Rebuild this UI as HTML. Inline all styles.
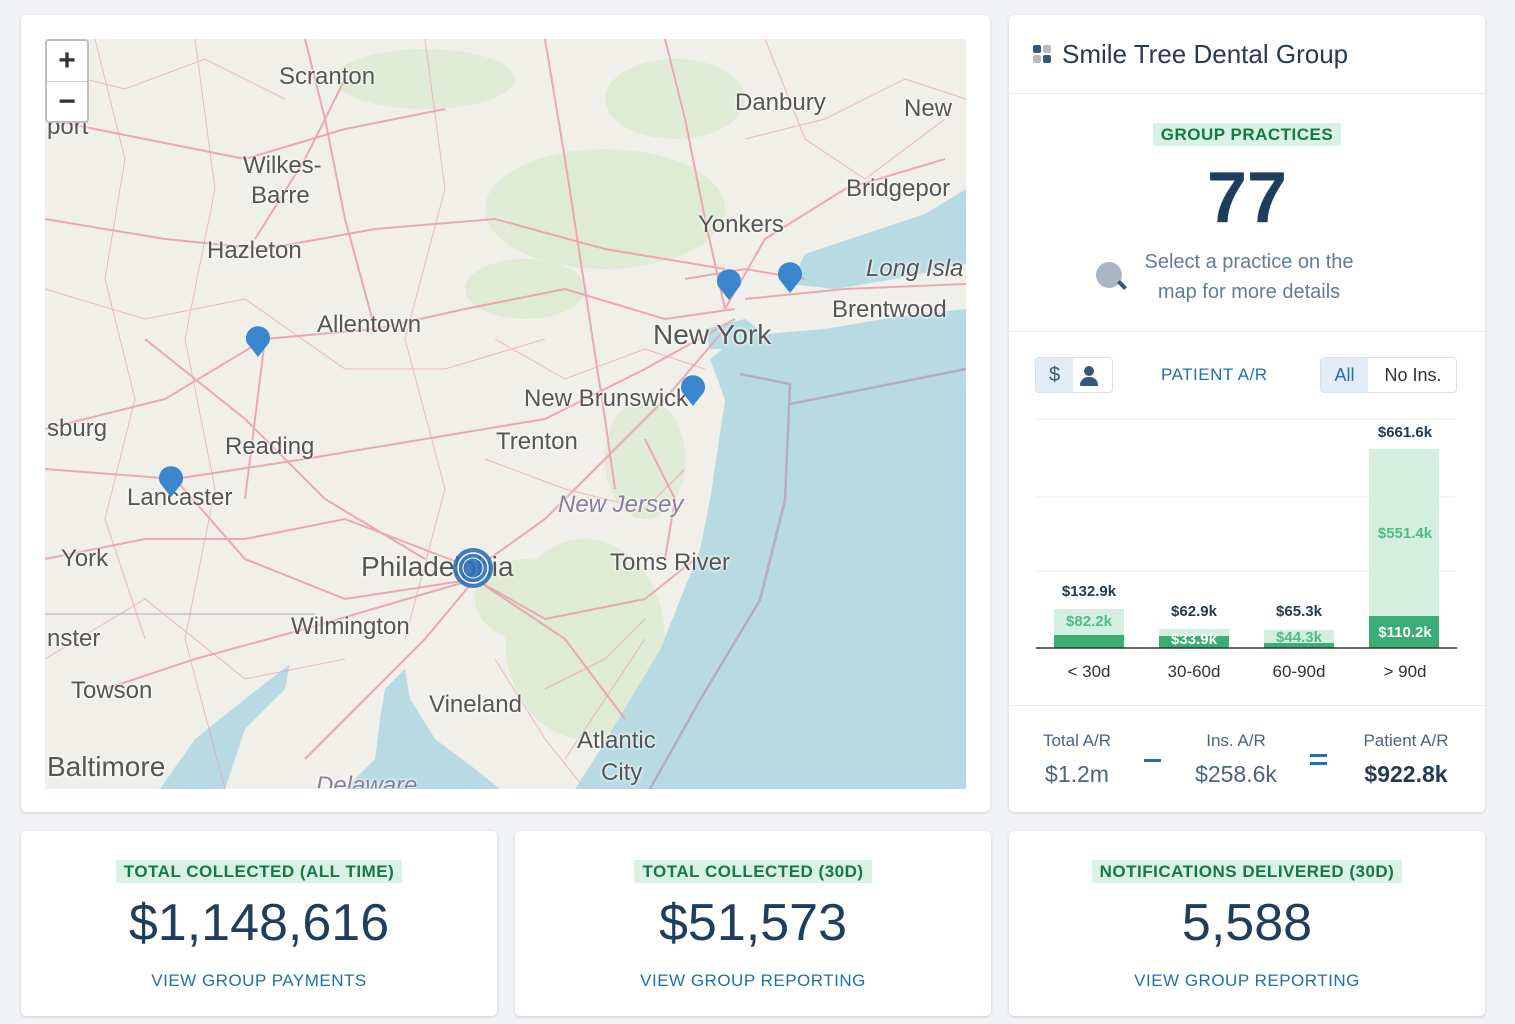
<!DOCTYPE html>
<html><head><meta charset="utf-8"><style>
*{box-sizing:border-box;margin:0;padding:0}
body{width:1515px;height:1024px;background:#f1f3f6;font-family:"Liberation Sans",sans-serif;position:relative;overflow:hidden;color:#243b53}
.card{position:absolute;background:#fff;border-radius:5px;box-shadow:0 1px 3px rgba(0,0,0,.15)}
.abs{position:absolute}
.badge{background:#d9f2e3;color:#157a42;font-weight:bold;letter-spacing:.5px;padding:2px 8px;border-radius:2px;font-size:17px}
.c{text-align:center}
.lbl{position:absolute;font-size:24px;color:#555;text-shadow:0 0 3px #fff,0 0 3px #fff}
</style></head><body>
<div class="card" style="left:21px;top:15px;width:969px;height:797px">
<svg class="abs" style="left:24px;top:24px" width="921" height="750" viewBox="0 0 921 750">
<rect width="921" height="750" fill="#f1efe9"/>
<g fill="#dcebcf" opacity=".8">
<ellipse cx="560" cy="170" rx="120" ry="60"/><ellipse cx="480" cy="250" rx="60" ry="30"/>
<ellipse cx="380" cy="40" rx="90" ry="30"/><ellipse cx="630" cy="60" rx="70" ry="40"/>
<ellipse cx="540" cy="600" rx="80" ry="100"/><ellipse cx="480" cy="560" rx="50" ry="40"/>
<ellipse cx="600" cy="420" rx="40" ry="60"/>
</g>
<path d="M921 150 L880 175 L820 195 L760 215 L745 245 L790 250 L850 240 L921 225Z" fill="#b8dbe3"/>
<path d="M921 270 L850 278 L780 290 L720 295 L690 300 L665 320 L680 361 L665 461 L655 511 L635 561 L615 611 L585 661 L555 711 L530 750 L921 750Z" fill="#b8dbe3"/>
<path d="M660 290 L700 280 L720 295 L690 310 L665 310Z" fill="#b8dbe3"/>
<path d="M115 750 L150 700 L200 660 L245 625 L240 650 L200 690 L180 750Z" fill="#b8dbe3"/>
<path d="M300 750 L330 720 L335 680 L340 650 L360 630 L365 660 L390 700 L430 730 L455 750Z" fill="#b8dbe3"/>
<path d="M695 335 L745 345 L740 461 L715 561 L655 661 L605 750" fill="none" stroke="#b3aec2" stroke-width="2.5"/>
<path d="M745 365 L921 330" fill="none" stroke="#b3aec2" stroke-width="2.5"/>
<line x1="0" y1="575" x2="270" y2="575" stroke="#c6c0c6" stroke-width="1.5"/>
<g stroke="#eba1ae" stroke-width="2" fill="none" opacity=".9">
<path d="M0 390 L120 360 L220 300 L330 290 L420 270 L520 250 L620 280 L690 270"/>
<path d="M0 430 L130 440 L260 420 L380 400 L500 380 L600 330 L690 280"/>
<path d="M430 530 L500 480 L560 420 L620 360 L680 290"/>
<path d="M430 540 L380 600 L320 660 L260 720"/>
<path d="M430 540 L520 600 L580 680"/>
<path d="M680 270 L720 200 L800 150 L900 120"/>
<path d="M680 270 L660 180 L640 80 L620 0"/>
<path d="M330 290 L300 180 L280 80 L260 0"/>
<path d="M210 200 L260 120 L300 40"/>
<path d="M0 180 L120 200 L220 210 L330 190 L450 180 L560 210 L680 230"/>
<path d="M220 300 L210 380 L200 460"/>
<path d="M130 440 L200 520 L300 560 L430 540"/>
<path d="M430 540 L500 580 L600 560 L650 520"/>
<path d="M0 520 L100 500 L200 500 L300 480 L430 530"/>
<path d="M60 650 L150 620 L260 590 L430 540"/>
<path d="M0 80 L100 100 L200 120 L300 90 L400 70"/>
<path d="M500 0 L520 120 L540 250 L560 380 L570 450"/>
<path d="M700 260 L800 250 L921 245"/>
<path d="M100 300 L200 380 L280 460 L380 520"/>
<path d="M600 400 L630 460 L620 520"/>
<path d="M640 240 L700 230 L760 240"/>
</g>
<g stroke="#eba1ae" stroke-width="1" fill="none" opacity=".7">
<path d="M0 250 L100 280 L200 260 L300 330 L400 330 L500 300"/>
<path d="M50 0 L80 120 L60 240 L90 360 L60 480 L100 600"/>
<path d="M150 0 L170 150 L140 300 L170 450 L140 600 L180 750"/>
<path d="M380 0 L400 150 L360 300 L400 450 L360 600"/>
<path d="M450 620 L500 700 L540 750"/>
<path d="M0 620 L100 560 L200 640 L300 620"/>
<path d="M720 0 L760 100 L820 140 L900 80"/>
<path d="M600 600 L560 660 L520 720"/>
<path d="M450 300 L520 340 L600 310 L660 330"/>
<path d="M440 420 L520 450 L600 470 L640 430"/>
<path d="M500 650 L560 620 L600 580"/>
<path d="M0 30 L80 50 L160 20 L240 60"/>
<path d="M700 100 L780 80 L860 40 L921 60"/>
</g>
</svg>
<div class="lbl" style="left:258px;top:48px">Scranton</div>
<div class="lbl" style="left:26px;top:98px">port</div>
<div class="lbl" style="left:222px;top:137px">Wilkes-</div>
<div class="lbl" style="left:230px;top:167px">Barre</div>
<div class="lbl" style="left:186px;top:222px">Hazleton</div>
<div class="lbl" style="left:296px;top:296px">Allentown</div>
<div class="lbl" style="left:204px;top:418px">Reading</div>
<div class="lbl" style="left:26px;top:400px">sburg</div>
<div class="lbl" style="left:106px;top:469px">Lancaster</div>
<div class="lbl" style="left:40px;top:530px">York</div>
<div class="lbl" style="left:26px;top:610px">nster</div>
<div class="lbl" style="left:50px;top:662px">Towson</div>
<div class="lbl" style="left:26px;top:736px;font-size:28px">Baltimore</div>
<div class="lbl" style="left:340px;top:536px;font-size:28px">Philadelphia</div>
<div class="lbl" style="left:270px;top:598px">Wilmington</div>
<div class="lbl" style="left:408px;top:676px">Vineland</div>
<div class="lbl" style="left:556px;top:712px">Atlantic</div>
<div class="lbl" style="left:580px;top:744px">City</div>
<div class="lbl" style="left:475px;top:413px">Trenton</div>
<div class="lbl" style="left:503px;top:370px">New Brunswick</div>
<div class="lbl" style="left:537px;top:476px;font-style:italic;color:#8a7d9b">New Jersey</div>
<div class="lbl" style="left:589px;top:534px">Toms River</div>
<div class="lbl" style="left:632px;top:304px;font-size:28px">New York</div>
<div class="lbl" style="left:677px;top:196px">Yonkers</div>
<div class="lbl" style="left:714px;top:74px">Danbury</div>
<div class="lbl" style="left:883px;top:80px">New</div>
<div class="lbl" style="left:825px;top:160px">Bridgepor</div>
<div class="lbl" style="left:845px;top:240px;font-style:italic">Long Isla</div>
<div class="lbl" style="left:811px;top:281px">Brentwood</div>
<div class="lbl" style="left:295px;top:757px;font-style:italic;color:#8a7d9b;height:16px;overflow:hidden">Delaware</div>
<div class="abs" style="left:24px;top:24px;width:44px;height:84px;background:#fff;border:2px solid rgba(0,0,0,.25);border-radius:4px;font-size:30px;color:#333;text-align:center;line-height:40px;font-weight:bold">+<div style="border-top:1px solid #ccc">−</div></div>
<svg class="abs" style="left:0;top:0" width="969" height="797" fill="#3a86cf">
<path d="M237 342 L226 328 A12 12 0 1 1 248 328Z"/>
<path d="M150 482 L139 468 A12 12 0 1 1 161 468Z"/>
<path d="M708 285 L697 271 A12 12 0 1 1 719 271Z"/>
<path d="M769 278 L758 264 A12 12 0 1 1 780 264Z"/>
<path d="M672 391 L661 377 A12 12 0 1 1 683 377Z"/>
<circle cx="452" cy="553" r="20" fill="#2e6fb8" opacity=".9"/><circle cx="452" cy="553" r="15" fill="none" stroke="#fff" stroke-width="1.5"/><circle cx="452" cy="553" r="10" fill="none" stroke="#fff" stroke-width="1"/>
</svg>
</div>

<div class="card" style="left:1009px;top:15px;width:476px;height:797px">
<div class="abs" style="left:24px;top:30px;width:18px;height:18px">
<div class="abs" style="left:0;top:0;width:8px;height:8px;background:#34577a;border-radius:2px"></div>
<div class="abs" style="left:10px;top:0;width:8px;height:8px;background:#bbb;border-radius:2px"></div>
<div class="abs" style="left:0;top:10px;width:8px;height:8px;background:#bbb;border-radius:2px"></div>
<div class="abs" style="left:10px;top:10px;width:8px;height:8px;background:#34577a;border-radius:2px"></div>
</div>
<div class="abs" style="left:53px;top:24px;font-size:26px;color:#243b53">Smile Tree Dental Group</div>
<div class="abs" style="left:0;top:78px;width:476px;border-top:1px solid #e8ebef"></div>
<div class="abs c" style="left:0;top:110px;width:476px"><span class="badge">GROUP PRACTICES</span></div>
<div class="abs c" style="left:0;top:142px;width:476px;font-size:72px;font-weight:bold;color:#1f3d5c">77</div>
<div class="abs" style="left:87px;top:247px;width:26px;height:26px;border-radius:50%;background:#a9b7c4"></div>
<div class="abs" style="left:108px;top:268px;width:10px;height:4px;background:#34577a;transform:rotate(45deg)"></div>
<div class="abs c" style="left:120px;top:232px;width:240px;font-size:20px;color:#627d98;line-height:30px">Select a practice on the<br>map for more details</div>
<div class="abs" style="left:0;top:316px;width:476px;border-top:1px solid #e8ebef"></div>
<div class="abs" style="left:26px;top:342px;width:78px;height:36px;border:1px solid #d9e2ec;border-radius:4px;overflow:hidden">
<div class="abs" style="left:0;top:0;width:37px;height:36px;background:#e3edf7;text-align:center;line-height:34px;font-size:20px;color:#34577a">$</div>
<div class="abs" style="left:48px;top:8px;width:10px;height:10px;border-radius:50%;background:#34577a"></div>
<div class="abs" style="left:44px;top:19px;width:18px;height:9px;border-radius:8px 8px 1px 1px;background:#34577a"></div>
</div>
<div class="abs" style="left:152px;top:350px;font-size:17px;color:#1f6fae;letter-spacing:.5px">PATIENT A/R</div>
<div class="abs" style="left:311px;top:342px;width:137px;height:36px;border:1px solid #d9e2ec;border-radius:4px;overflow:hidden;font-size:18px">
<div class="abs" style="left:0;top:0;width:47px;height:36px;background:#e3edf7;text-align:center;line-height:34px;color:#1f6fae">All</div>
<div class="abs" style="left:47px;top:0;width:90px;text-align:center;line-height:34px;color:#333">No Ins.</div>
</div>
<svg class="abs" style="left:0;top:395px" width="476" height="290">
<g stroke="#e8ebef"><line x1="27" y1="9" x2="448" y2="9"/><line x1="27" y1="87" x2="448" y2="87"/><line x1="27" y1="161" x2="448" y2="161"/></g>
<g fill="#d4efe0"><rect x="45" y="199" width="70" height="39"/><rect x="150" y="219" width="70" height="19"/><rect x="255" y="220" width="70" height="18"/><rect x="360" y="39" width="70" height="199"/></g>
<g fill="#3aae74"><rect x="45" y="225" width="70" height="13"/><rect x="150" y="226" width="70" height="12"/><rect x="255" y="233" width="70" height="5"/><rect x="360" y="206" width="70" height="32"/></g>
<line x1="27" y1="238" x2="448" y2="238" stroke="#333" stroke-width="1.5"/>
<g font-family="Liberation Sans" font-weight="bold" font-size="15" text-anchor="middle">
<g fill="#243b53"><text x="80" y="186">$132.9k</text><text x="185" y="206">$62.9k</text><text x="290" y="206">$65.3k</text><text x="396" y="27">$661.6k</text></g>
<g fill="#4dbd83"><text x="80" y="216">$82.2k</text><text x="290" y="232">$44.3k</text><text x="396" y="128">$551.4k</text></g>
<g fill="#fff"><text x="185" y="234">$33.9k</text><text x="396" y="227">$110.2k</text></g>
</g>
<g font-family="Liberation Sans" font-size="17" fill="#333" text-anchor="middle"><text x="80" y="267">&lt; 30d</text><text x="185" y="267">30-60d</text><text x="290" y="267">60-90d</text><text x="396" y="267">&gt; 90d</text></g>
</svg>
<div class="abs" style="left:0;top:690px;width:476px;border-top:1px solid #e8ebef"></div>
<div class="abs c" style="left:18px;top:716px;width:100px;font-size:17px;color:#486581">Total A/R</div>
<div class="abs c" style="left:18px;top:746px;width:100px;font-size:23px;color:#486581">$1.2m</div>
<div class="abs" style="left:135px;top:744px;width:17px;height:3px;background:#1f6fae"></div>
<div class="abs c" style="left:167px;top:716px;width:120px;font-size:17px;color:#486581">Ins. A/R</div>
<div class="abs c" style="left:167px;top:746px;width:120px;font-size:23px;color:#486581">$258.6k</div>
<div class="abs" style="left:301px;top:739px;width:17px;height:3px;background:#1f6fae"></div>
<div class="abs" style="left:301px;top:747px;width:17px;height:3px;background:#1f6fae"></div>
<div class="abs c" style="left:340px;top:716px;width:114px;font-size:17px;color:#486581">Patient A/R</div>
<div class="abs c" style="left:340px;top:746px;width:114px;font-size:23px;font-weight:bold;color:#243b53">$922.8k</div>
</div>

<div class="card" style="left:21px;top:831px;width:476px;height:185px">
<div class="abs c" style="left:0;top:31px;width:476px"><span class="badge">TOTAL COLLECTED (ALL TIME)</span></div>
<div class="abs c" style="left:0;top:62px;width:476px;font-size:52px;color:#1f3d5c">$1,148,616</div>
<div class="abs c" style="left:0;top:140px;width:476px;font-size:17px;color:#1f6fae;letter-spacing:.5px">VIEW GROUP PAYMENTS</div>
</div>
<div class="card" style="left:515px;top:831px;width:476px;height:185px">
<div class="abs c" style="left:0;top:31px;width:476px"><span class="badge">TOTAL COLLECTED (30D)</span></div>
<div class="abs c" style="left:0;top:62px;width:476px;font-size:52px;color:#1f3d5c">$51,573</div>
<div class="abs c" style="left:0;top:140px;width:476px;font-size:17px;color:#1f6fae;letter-spacing:.5px">VIEW GROUP REPORTING</div>
</div>
<div class="card" style="left:1009px;top:831px;width:476px;height:185px">
<div class="abs c" style="left:0;top:31px;width:476px"><span class="badge">NOTIFICATIONS DELIVERED (30D)</span></div>
<div class="abs c" style="left:0;top:62px;width:476px;font-size:52px;color:#1f3d5c">5,588</div>
<div class="abs c" style="left:0;top:140px;width:476px;font-size:17px;color:#1f6fae;letter-spacing:.5px">VIEW GROUP REPORTING</div>
</div>
</body></html>
